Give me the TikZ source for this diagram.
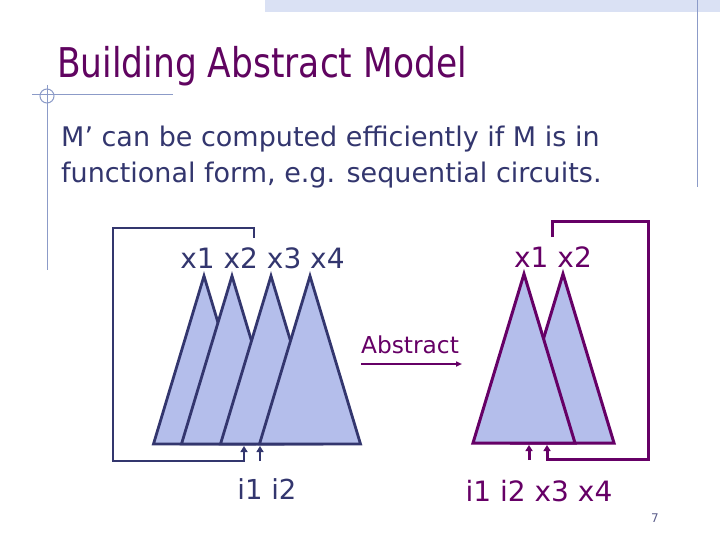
\documentclass[tikz,border=0pt]{standalone}
\usepackage{fontspec}
\setmainfont{DejaVu Sans}
\newfontfamily\titlefont{DejaVu Sans}[FakeStretch=0.84]
\usetikzlibrary{arrows.meta}
\definecolor{titlecol}{RGB}{96,4,96}
\definecolor{navy}{RGB}{51,54,110}
\definecolor{trifill}{RGB}{180,190,235}
\definecolor{purp}{RGB}{102,0,102}
\definecolor{decocol}{RGB}{140,155,200}
\definecolor{bandcol}{RGB}{218,225,244}
\tikzset{
  txt/.style={inner sep=0pt, anchor=base},
  lefttri/.style={draw=navy, fill=trifill, line width=2.8pt, line join=miter},
  righttri/.style={draw=purp, fill=trifill, line width=3pt, line join=miter},
  leftfb/.style={draw=navy, line width=2.8pt, -{Triangle[length=6pt,width=7pt]}},
  rightfb/.style={draw=purp, line width=3pt, -{Triangle[length=6pt,width=7pt]}},
  deco/.style={draw=decocol, line width=1pt}
}
\begin{document}
\begin{tikzpicture}[x=1pt,y=-1pt]
\useasboundingbox (0,0) rectangle (720,540);
% decoration
\fill[bandcol] (265,0) rectangle (720,12);
\draw[deco] (697,0) -- (697,187);
\draw[deco] (32,95) -- (173,95);
\draw[deco] (47,85) -- (47,270);
\draw[deco] (47,96) circle (7pt);
% title and text
\node[txt, anchor=base west, text=titlecol, font=\titlefont\fontsize{41}{48}\selectfont] (title) at (57,78) {Building Abstract Model};
\node[txt, anchor=base west, text=navy, font=\fontsize{27}{32}\selectfont] (l1) at (61,147) {M’ can be computed efficiently if M is in};
\node[txt, anchor=base west, text=navy, font=\fontsize{27}{32}\selectfont] (l2) at (61,183) {functional form, e.g. sequential circuits.};
% left diagram
\foreach \ax in {204,232,271,310}
  \filldraw[lefttri] (\ax-50.5,444) -- (\ax,276) -- (\ax+50.5,444) -- cycle;
\coordinate (lfs) at (254,238);
\coordinate (lfe) at (244,446);
\coordinate (la2s) at (260,461);
\coordinate (la2e) at (260,446);
\draw[leftfb] (lfs) -- (254,228) -- (113,228) -- (113,461) -- (244,461) -- (lfe);
\draw[leftfb] (la2s) -- (la2e);
\node[txt, text=navy, font=\fontsize{28}{32}\selectfont] (lx) at (262.5,268) {x1 x2 x3 x4};
\node[txt, text=navy, font=\fontsize{27.5}{32}\selectfont] (li) at (267,499) {i1 i2};
% abstract arrow
\node[txt, text=purp, font=\fontsize{23.3}{28}\selectfont] (abs) at (410,353) {Abstract};
\coordinate (as) at (361,364);
\coordinate (ae) at (462,364);
\draw[draw=purp, line width=1.6pt, -{Triangle[length=6pt,width=5pt]}] (as) -- (ae);
% right diagram
\filldraw[righttri] (512,443) -- (563,274) -- (614,443) -- cycle;
\filldraw[righttri] (473,443) -- (524,274) -- (575,443) -- cycle;
\coordinate (rfs) at (552,237);
\coordinate (rfe) at (547,445);
\coordinate (ra2s) at (529,460);
\coordinate (ra2e) at (529,445);
\draw[rightfb] (rfs) -- (552,222) -- (648,222) -- (648,459) -- (547,459) -- (rfe);
\draw[rightfb] (ra2s) -- (ra2e);
\node[txt, text=purp, font=\fontsize{28}{32}\selectfont] (rx) at (553,267) {x1 x2};
\node[txt, text=purp, font=\fontsize{28}{32}\selectfont] (ri) at (539,501) {i1 i2 x3 x4};
% page number
\node[txt, text=navy!80, font=\fontsize{12}{14}\selectfont] (pg) at (655,522) {7};
\end{tikzpicture}
\end{document}
